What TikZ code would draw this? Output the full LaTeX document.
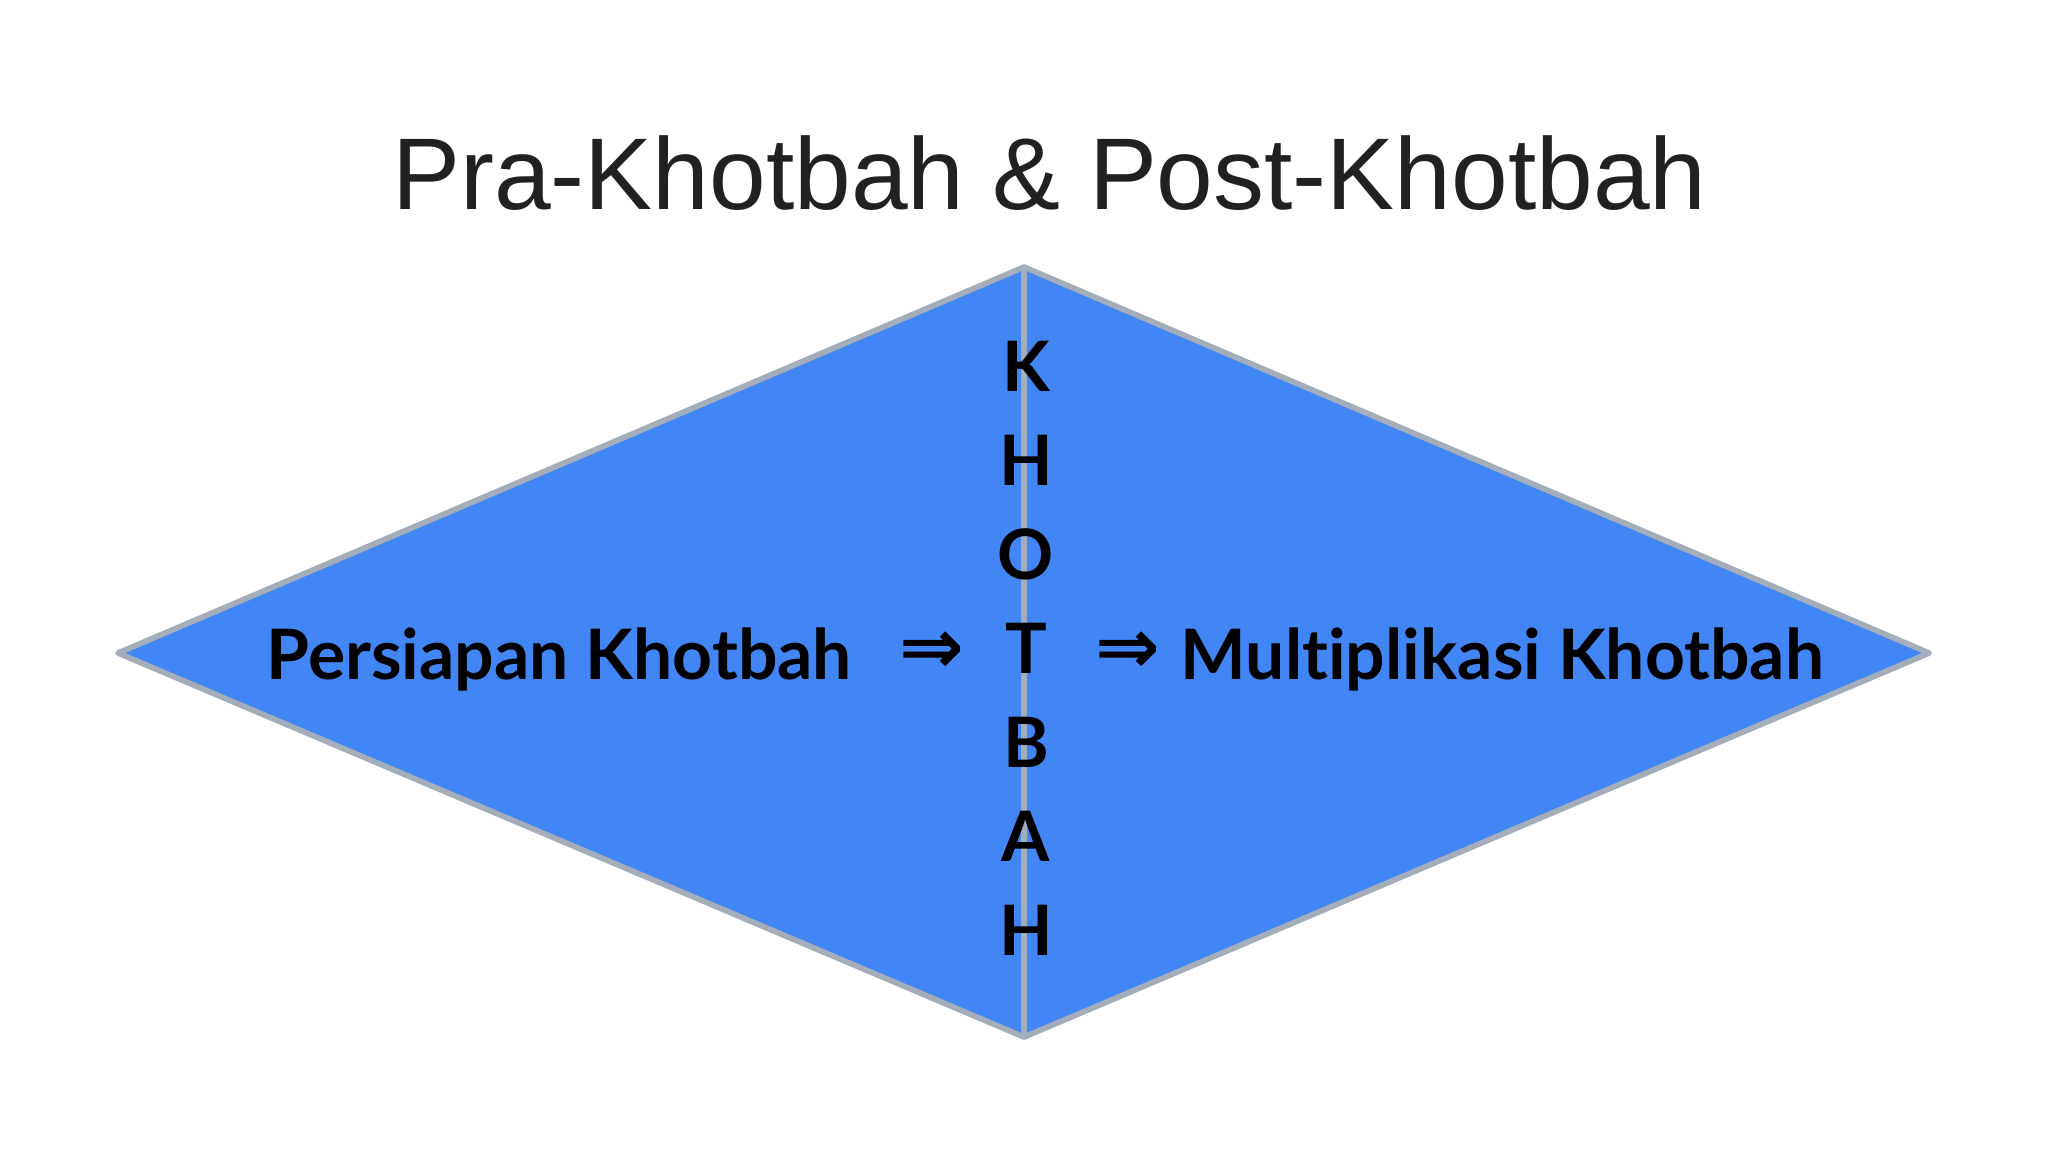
\documentclass[tikz,border=0pt]{standalone}
\usepackage{fontspec}
\usepackage{tikz}
\newfontfamily\titlefont{Liberation Sans}
\newfontfamily\labelfont{Lato}[Ligatures=NoCommon]
\newfontfamily\arrowfont{DejaVu Sans}
\definecolor{kblue}{HTML}{4285F4}
\definecolor{kgray}{HTML}{A3AEBA}
\definecolor{ktitle}{HTML}{212121}

\begin{document}
\begin{tikzpicture}[scale=0.1]
            \tikzstyle{every node}+=[inner sep=0pt]
            \tikzset{lbl/.style={font=\labelfont\bfseries\fontsize{19.8}{23}\selectfont, text=black},
                     arr/.style={font=\arrowfont\bfseries\fontsize{22}{26}\selectfont, text=black}}
            \useasboundingbox (0,0) rectangle (204.8,-115.2);
            \coordinate (top) at (102.4,-26.7);
            \coordinate (bot) at (102.4,-103.7);
            \coordinate (lft) at (11.8,-65.3);
            \coordinate (rgt) at (192.9,-65.3);
            \draw [kgray, fill=kblue, line width=1.6pt, line join=round] (top) -- (rgt) -- (bot) -- (lft) -- cycle;
            \draw [kgray, line width=1.5pt] (top) -- (bot);
            \draw (104.95,-21.0) node [anchor=base, font=\titlefont\fontsize{29}{34}\selectfont, text=ktitle] (title) {Pra-Khotbah \& Post-Khotbah};
            \draw (26.6,-67.9) node [anchor=base west, lbl] (prep) {Persiapan Khotbah};
            \draw (93.2,-65.3) node [arr] (to1) {⇒};
            \draw (112.8,-65.3) node [arr] (to2) {⇒};
            \draw (118.0,-67.9) node [anchor=base west, lbl] (multi) {Multiplikasi Khotbah};
            \foreach \ch [count=\i from 0] in {K,H,O,T,B,A,H}
              \draw (102.6,-39.1-9.4*\i) node [anchor=base, lbl] (ch\i) {\ch};
        \end{tikzpicture}
\end{document}
